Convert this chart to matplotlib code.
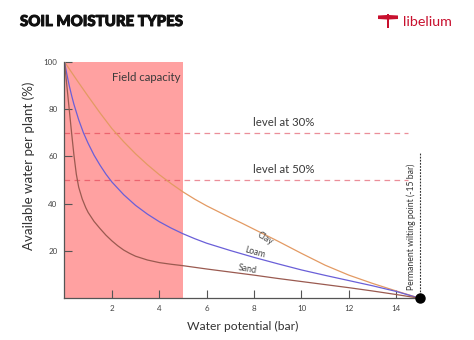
import matplotlib
matplotlib.use("Agg")
import matplotlib.pyplot as plt
from matplotlib.patches import Rectangle, Polygon
from matplotlib import transforms
import matplotlib.patheffects as pe

# Retention curves: available water (%) against water potential (bar)
clay_x = [0, 0.5, 1, 1.5, 2, 2.5, 3, 3.5, 4, 4.5, 5, 5.5, 6, 6.5, 7, 7.5, 8, 9, 10, 11,
          12, 13, 14, 15]
clay_y = [100, 92.6, 85.4, 78.4, 71.8, 66.2, 61.1, 56.5, 52.3, 48.5, 45, 41.9, 39.1,
          36.6, 34.1, 31.7, 29.2, 24.2, 19, 14, 9.8, 6.3, 3.1, 0]

loam_x = [0, 0.1, 0.2, 0.3, 0.4, 0.6, 0.8, 1.0, 1.25, 1.5, 1.75, 2.0, 2.5, 3.0, 3.5,
          4.0, 4.5, 5, 5.5, 6, 7, 8, 9, 10, 11, 12, 13, 14, 15]
loam_y = [100, 94.8, 90, 85.8, 82, 75.5, 70, 65.5, 60.5, 56.3, 52.5, 49.2, 43.8, 39.3,
          35.6, 32.4, 29.7, 27.3, 25.2, 23.3, 20.2, 17.3, 14.6, 12, 9.7, 7.5, 5.3, 2.9, 0]

sand_x = [0, 0.1, 0.2, 0.3, 0.4, 0.5, 0.6, 0.75, 0.9, 1.0, 1.25, 1.5, 1.75, 2.0, 2.25,
          2.5, 2.75, 3.0, 3.5, 4.0, 4.5, 5, 6, 7, 8, 9, 10, 11, 12, 13, 14, 15]
sand_y = [100, 90, 80, 70, 60.5, 52.5, 47, 42, 38.3, 36.3, 32.5, 29.5, 26.7, 24.3, 22.2,
          20.4, 19, 17.8, 16.2, 15.1, 14.4, 13.8, 12.4, 11.1, 9.8, 8.4, 7.1, 5.8, 4.5,
          3.1, 1.6, 0]

field_capacity = 5          # bar
wilting_point = 15          # bar
levels = [70, 50]
level_labels = ["level at 30%", "level at 50%"]
x_ticks = [2, 4, 6, 8, 10, 12, 14]
y_ticks = [20, 40, 60, 80, 100]

FONT = ["Lato", "DejaVu Sans"]
plt.rcParams["font.family"] = FONT

fig = plt.figure(figsize=(4.74, 3.40), dpi=100)
ax = fig.add_axes([0.136, 0.1226, 0.754, 0.6956])
ax.set_xlim(0, 15.08)
ax.set_ylim(0, 100)

# field capacity band
ax.add_patch(Rectangle((0, 0), field_capacity, 100, facecolor="#ffa1a1",
                       edgecolor="none", zorder=1))
ax.text(field_capacity - 0.12, 95.8, "Field capacity", ha="right", va="top",
        fontsize=8.2, color="#3a3a3a", zorder=5)

# reference levels
for lv, lab in zip(levels, level_labels):
    ax.plot([0, 14.5], [lv, lv], color="#dc3246", alpha=0.55, lw=0.9,
            dashes=(4.5, 3.5), zorder=2)
    ax.text(7.97, lv + 2.2, lab, ha="left", va="bottom", fontsize=8.2,
            color="#3a3a3a", zorder=5)

# curves
ax.plot(clay_x, clay_y, color="#e39a63", lw=0.9, zorder=3)
ax.plot(loam_x, loam_y, color="#6a5fd8", lw=0.9, zorder=3)
ax.plot(sand_x, sand_y, color="#9a5a50", lw=0.9, zorder=3)

ax.text(8.45, 25.2, "Clay", rotation=-31, fontsize=6.3, color="#444444",
        ha="center", va="center", rotation_mode="anchor", zorder=5)
ax.text(8.05, 19.5, "Loam", rotation=-16, fontsize=6.3, color="#444444",
        ha="center", va="center", rotation_mode="anchor", zorder=5)
ax.text(7.72, 12.2, "Sand", rotation=-10, fontsize=6.3, color="#444444",
        ha="center", va="center", rotation_mode="anchor", zorder=5)

# permanent wilting point
ax.plot([wilting_point, wilting_point], [0, 62], color="#333333", lw=0.8,
        dashes=(1.6, 1.2), zorder=3, clip_on=False)
ax.plot([wilting_point], [0], "o", color="black", ms=6.5, zorder=6, clip_on=False)
off = transforms.offset_copy(ax.transData, fig=fig, x=-3, y=0, units="points")
ax.text(wilting_point, 3.5, "Permanent wilting point (-15 bar)", rotation=90,
        ha="right", va="bottom", fontsize=6.2, color="#333333", transform=off,
        zorder=5)

# axes styling
for s in ["top", "right"]:
    ax.spines[s].set_visible(False)
for s in ["left", "bottom"]:
    ax.spines[s].set_color("#555555")
    ax.spines[s].set_linewidth(0.9)
    ax.spines[s].set_zorder(4)
ax.set_xticks(x_ticks)
ax.set_yticks(y_ticks)
ax.tick_params(direction="in", length=6, width=0.8, color="#555555",
               labelsize=5.8, labelcolor="#444444", pad=5)
ax.set_xlabel("Water potential (bar)", fontsize=8.7, color="#333333", labelpad=6)
ax.set_ylabel("Available water per plant (%)", fontsize=9.6, color="#333333")
ax.yaxis.set_label_coords(-0.083, 0.56)

# header
fig.text(20 / 474, 1 - 22 / 340, "SOIL MOISTURE TYPES", ha="left", va="center",
         fontsize=10.8, fontweight="black", color="#111111",
         path_effects=[pe.withStroke(linewidth=0.7, foreground="#111111")])

# logo: dragonfly mark + wordmark
logo_red = "#c8102e"
lx, ly = 388 / 474, 1 - 18 / 340
w = 1 / 474
h = 1 / 340
fig.patches.append(Polygon([(lx - 10 * w, ly + 2.5 * h), (lx - 1 * w, ly + 3 * h),
                            (lx - 1 * w, ly - 1.5 * h), (lx - 10 * w, ly - 1 * h)],
                           closed=True, facecolor=logo_red, transform=fig.transFigure))
fig.patches.append(Polygon([(lx + 10 * w, ly + 2.5 * h), (lx + 1 * w, ly + 3 * h),
                            (lx + 1 * w, ly - 1.5 * h), (lx + 10 * w, ly - 1 * h)],
                           closed=True, facecolor=logo_red, transform=fig.transFigure))
fig.patches.append(Rectangle((lx - 0.8 * w, ly - 10 * h), 1.6 * w, 14 * h,
                             facecolor=logo_red, transform=fig.transFigure))
fig.text(403 / 474, 1 - 22 / 340, "libelium", ha="left", va="center",
         fontsize=10.3, color=logo_red)

fig.savefig("out.png", dpi=100)
